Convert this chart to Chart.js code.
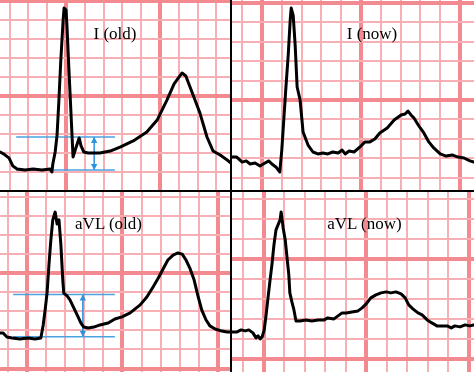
<!DOCTYPE html>
<html><head><meta charset="utf-8">
<script src="https://cdn.jsdelivr.net/npm/chart.js@4.4.1/dist/chart.umd.min.js"></script>
<style>
html,body{margin:0;padding:0;background:#fff;}
#wrap{position:relative;width:474px;height:372px;overflow:hidden;background:#fff;}
canvas{position:absolute;}
.lbl{position:absolute;font-family:"Liberation Serif","Times New Roman",serif;font-size:17px;line-height:17px;color:#000;white-space:nowrap;transform:translateX(-50%);z-index:3;}
.sep{position:absolute;background:#000;z-index:4;}
</style></head><body>
<div id="wrap"></div>
<script>
// ---------- DATA (time in ms, amplitude in mV; 1 small box = 40 ms x 0.1 mV) ----------
const panelTitles = ["I (old)", "I (now)", "aVL (old)", "aVL (now)"];

const iOldTime = [-140,-132,-121,-113,-104,-87,-70,-51,-34,-30,-28,-23,-19,-15,-11,-6,-4,0,2,6,11,15,21,28,32,38,47,72,94,115,143,172,194,215,230,247,255,268,285,300,313,328,343,351];
const iOldMv   = [0.205,0.194,0.173,0.131,0.116,0.110,0.116,0.110,0.116,0.100,0.142,0.205,0.294,0.479,0.689,0.900,0.963,0.952,0.873,0.652,0.389,0.179,0.226,0.279,0.237,0.205,0.200,0.200,0.210,0.231,0.263,0.310,0.373,0.479,0.563,0.621,0.605,0.521,0.410,0.284,0.210,0.189,0.163,0.147];

const iNowTime = [-63,-51,-40,-32,-24,-14,-4,6,14,20,28,36,40,44,48,53,57,59,63,67,71,77,83,93,103,113,123,133,143,154,162,168,176,186,198,208,218,228,238,253,267,281,289,295,301,307,317,327,337,347,360,372,384,396,408,420,428];
const iNowMv   = [0.206,0.206,0.180,0.186,0.170,0.175,0.160,0.175,0.186,0.170,0.155,0.129,0.242,0.397,0.552,0.732,0.912,0.974,0.938,0.784,0.567,0.500,0.335,0.268,0.232,0.222,0.227,0.222,0.232,0.227,0.242,0.222,0.237,0.232,0.258,0.284,0.284,0.299,0.330,0.356,0.397,0.423,0.428,0.443,0.423,0.407,0.366,0.330,0.284,0.253,0.222,0.211,0.217,0.206,0.201,0.186,0.180];

const avlOldTime = [-57,-50,-42,-31,-15,2,17,29,34,38,42,46,50,54,59,63,67,71,75,77,84,90,98,107,113,119,128,140,153,170,184,199,216,237,251,264,275,285,295,306,316,325,333,341,350,358,366,375,383,394,408,419,427];
const avlOldMv   = [0.186,0.186,0.165,0.160,0.154,0.160,0.154,0.160,0.228,0.306,0.395,0.542,0.673,0.778,0.819,0.757,0.778,0.647,0.463,0.395,0.380,0.359,0.317,0.270,0.238,0.217,0.212,0.217,0.228,0.238,0.259,0.270,0.291,0.333,0.374,0.427,0.474,0.521,0.568,0.594,0.605,0.599,0.568,0.526,0.463,0.380,0.306,0.254,0.223,0.207,0.196,0.191,0.191];

const avlNowTime = [-64,-52,-44,-36,-29,-21,-15,-11,-7,-3,1,4,8,12,16,20,24,28,32,34,38,42,45,49,51,55,59,63,71,82,94,106,118,125,137,145,153,161,172,184,192,200,209,219,229,239,248,258,268,276,283,291,301,309,319,328,338,348,358,366,373,383,393,402,410];
const avlNowMv   = [0.137,0.137,0.147,0.142,0.147,0.132,0.107,0.117,0.102,0.112,0.147,0.207,0.297,0.387,0.472,0.572,0.647,0.672,0.697,0.737,0.657,0.597,0.522,0.422,0.332,0.287,0.247,0.192,0.192,0.197,0.192,0.197,0.197,0.207,0.202,0.217,0.232,0.232,0.237,0.242,0.257,0.277,0.307,0.322,0.332,0.337,0.332,0.337,0.327,0.307,0.272,0.252,0.232,0.222,0.197,0.182,0.167,0.167,0.167,0.157,0.167,0.162,0.172,0.167,0.172];

// ST measurement markers (levels in mV, span and arrow position in ms)
const iOldLevels = [0.110, 0.284];
const iOldSpan   = [-106, 104];
const iOldArrowAt = 60;
const avlOldLevels = [0.166, 0.388];
const avlOldSpan   = [-29, 184];
const avlOldArrowAt = 117;

// ---------- LAYOUT / STYLE ----------
const MINOR = '#f7afb4', MAJOR = '#f38a90';
const XSTEP = 40, YSTEP = 0.1;
const panels = [
  {t:iOldTime,  v:iOldMv,  left:0,   top:0,   w:231, h:190, x:[-140.4,351.1], y:[0.005,1.005],   mark:{lv:iOldLevels, sp:iOldSpan, at:iOldArrowAt}, lx:115,   ly:25},
  {t:iNowTime,  v:iNowMv,  left:231, top:0,   w:243, h:190, x:[-62.6,428.3],  y:[0.0361,1.0155], mark:null, lx:372, ly:25},
  {t:avlOldTime,v:avlOldMv,left:0,   top:190, w:231, h:182, x:[-56.5,427.2],  y:[-0.0183,0.9345], mark:{lv:avlOldLevels, sp:avlOldSpan, at:avlOldArrowAt}, lx:108.5, ly:214.5},
  {t:avlNowTime,v:avlNowMv,left:231, top:190, w:243, h:182, x:[-63.8,410.3],  y:[-0.0635,0.8465], mark:null, lx:364.5, ly:214.5}
];

function makeTicks(step){
  return s => {
    const out = [];
    const a = Math.ceil(s.min/step - 1e-6), b = Math.floor(s.max/step + 1e-6);
    for (let k = a; k <= b; k++) out.push({value: +(k*step).toFixed(6)});
    s.ticks = out;
  };
}
function isMajor(v, step){ const k = Math.round(v/step); return ((k%5)+5)%5 === 0; }
function axis(range, step){
  return {
    type:'linear', min:range[0], max:range[1], bounds:'data',
    afterBuildTicks: makeTicks(step),
    ticks:{display:false}, border:{display:false},
    grid:{
      drawTicks:false,
      color: c => (c.tick && isMajor(c.tick.value, step)) ? MAJOR : MINOR,
      lineWidth: c => (c.tick && isMajor(c.tick.value, step)) ? 4 : 2
    }
  };
}
const arrowHeads = {
  id:'arrowHeads',
  afterDatasetsDraw(chart){
    const ctx = chart.ctx;
    chart.data.datasets.forEach((ds, i) => {
      if (!ds.arrow) return;
      const pts = chart.getDatasetMeta(i).data;
      ctx.save();
      ctx.fillStyle = ds.borderColor;
      [[pts[0], 1], [pts[pts.length-1], -1]].forEach(([p, dir]) => {
        ctx.beginPath();
        ctx.moveTo(p.x, p.y);
        ctx.lineTo(p.x - 3.2, p.y + dir*6);
        ctx.lineTo(p.x + 3.2, p.y + dir*6);
        ctx.closePath();
        ctx.fill();
      });
      ctx.restore();
    });
  }
};

const wrap = document.getElementById('wrap');
panels.forEach((p, idx) => {
  const cv = document.createElement('canvas');
  cv.width = p.w; cv.height = p.h;
  cv.style.left = p.left + 'px'; cv.style.top = p.top + 'px';
  wrap.appendChild(cv);
  const datasets = [{
    data: p.t.map((t, i) => ({x:t, y:p.v[i]})),
    borderColor:'#000', borderWidth:3, pointRadius:0, tension:0,
    borderJoinStyle:'round', borderCapStyle:'round'
  }];
  if (p.mark) {
    p.mark.lv.forEach(l => datasets.push({
      data:[{x:p.mark.sp[0], y:l}, {x:p.mark.sp[1], y:l}],
      borderColor:'#4aa3e0', borderWidth:1.5, pointRadius:0
    }));
    datasets.push({
      data:[{x:p.mark.at, y:p.mark.lv[1]}, {x:p.mark.at, y:p.mark.lv[0]}],
      borderColor:'#2a93dc', borderWidth:1.5, pointRadius:0, arrow:true
    });
  }
  new Chart(cv, {
    type:'line',
    data:{datasets},
    options:{
      responsive:false, animation:false, events:[], devicePixelRatio:1,
      layout:{padding:0},
      plugins:{legend:{display:false}, tooltip:{enabled:false}},
      scales:{ x: axis(p.x, XSTEP), y: axis(p.y, YSTEP) }
    },
    plugins:[arrowHeads]
  });
  const d = document.createElement('div');
  d.className = 'lbl';
  d.textContent = panelTitles[idx];
  d.style.left = p.lx + 'px'; d.style.top = p.ly + 'px';
  wrap.appendChild(d);
});
// panel separators
[[230,0,2,372],[0,190,474,2]].forEach(r => {
  const s = document.createElement('div');
  s.className = 'sep';
  s.style.left = r[0]+'px'; s.style.top = r[1]+'px'; s.style.width = r[2]+'px'; s.style.height = r[3]+'px';
  wrap.appendChild(s);
});
</script>
</body></html>
